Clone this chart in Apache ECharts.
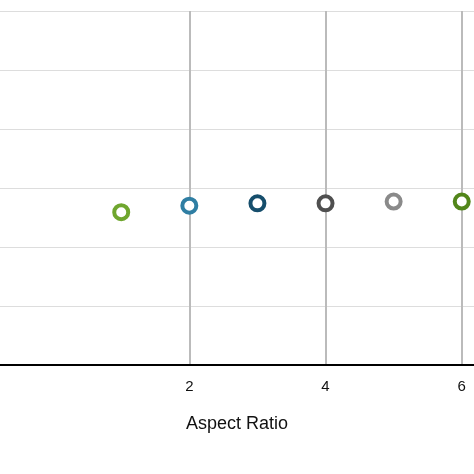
<!DOCTYPE html>
<html>
<head>
<meta charset="utf-8">
<script src="https://cdn.jsdelivr.net/npm/echarts@6/dist/echarts.min.js"></script>
<style>html,body{margin:0;padding:0;background:#fff}#chart{width:474px;height:474px}</style>
</head>
<body>
<div id="chart"></div>
<script>
var xValues = [1, 2, 3, 4, 5, 6];
var yValues = [2.59, 2.7, 2.74, 2.74, 2.77, 2.77];
var xTicks = [2, 4, 6];
var colors = ['#6fa62e', '#2f7ea3', '#164e6c', '#4f4f4f', '#8a8a8a', '#52861a'];

var myChart = echarts.init(document.getElementById('chart'));
var option = {
	animation: false,
	grid: { left: 0, right: 0, top: 11, bottom: 109 },
	xAxis: {
		type: 'value',
		min: -0.78,
		max: 6.18,
		name: 'Aspect Ratio',
		nameLocation: 'middle',
		nameGap: 50,
		nameTextStyle: { color: '#111', fontSize: 18, fontFamily: 'Liberation Sans' },
		axisLine: { lineStyle: { color: '#000', width: 2 } },
		axisTick: { show: false, customValues: xTicks },
		axisLabel: { color: '#111', fontSize: 15, margin: 14, fontFamily: 'Liberation Sans', customValues: xTicks },
		splitLine: { show: true, lineStyle: { color: '#bbb', width: 2 } }
	},
	yAxis: {
		type: 'value',
		min: 0,
		max: 6,
		interval: 1,
		axisLine: { show: false },
		axisTick: { show: false },
		axisLabel: { show: false },
		splitLine: { show: true, lineStyle: { color: '#ddd', width: 1 } }
	},
	series: [{
		type: 'scatter',
		symbol: 'circle',
		symbolSize: 14,
		data: xValues.map(function(x, i) {
			return {
				value: [x, yValues[i]],
				itemStyle: { color: '#fff', borderColor: colors[i], borderWidth: 4, opacity: 1 }
			};
		})
	}]
};
myChart.setOption(option);
</script>
</body>
</html>
